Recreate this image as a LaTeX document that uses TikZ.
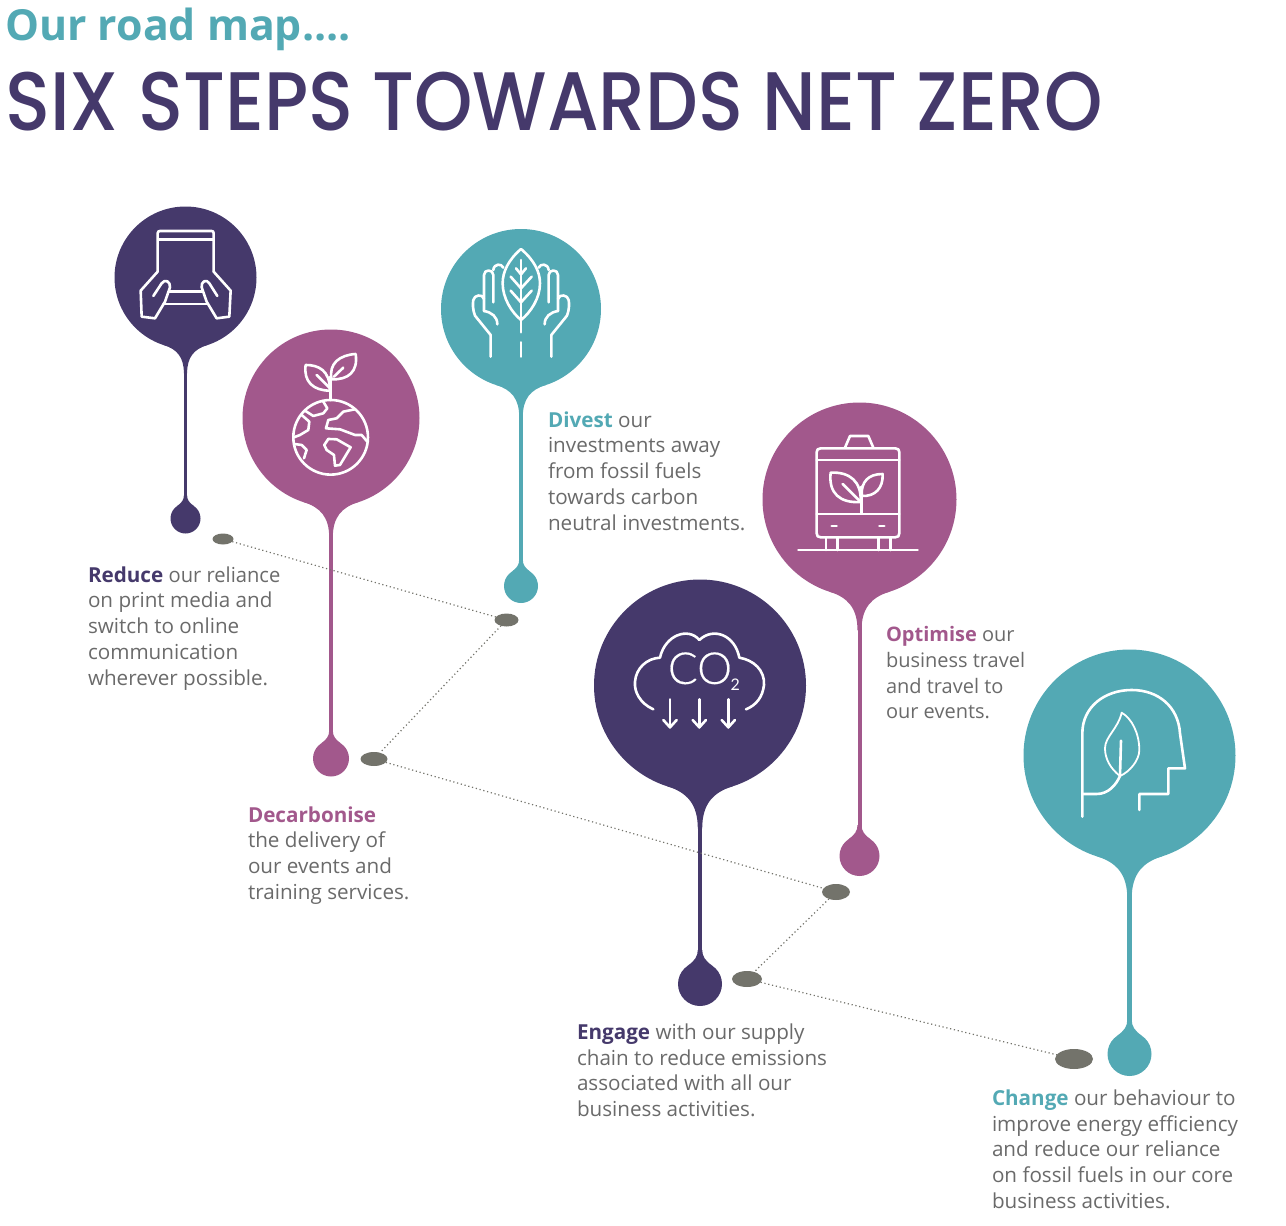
\documentclass[tikz,border=0pt]{standalone}
\usepackage{fontspec}
\setmainfont{Open Sans}
\newfontfamily\titlefont{Poppins Medium}
\newfontfamily\thinfont[FakeBold=0.4]{Lato Light}
\newfontfamily\regfont{Lato}
\usetikzlibrary{shapes.geometric}
\definecolor{cpurple}{HTML}{45396B}
\definecolor{cmag}{HTML}{A2588C}
\definecolor{cteal}{HTML}{53A9B4}
\definecolor{cgray}{HTML}{73736B}
\definecolor{ctext}{HTML}{6A6A6A}
\tikzset{
  pinhead/.style={circle,inner sep=0pt,outer sep=0pt,draw=none},
  shadowdot/.style={ellipse,inner sep=0pt,outer sep=0pt,fill=cgray,draw=none},
  dotlink/.style={cgray,line width=1.2pt,dash pattern=on 1.2pt off 2.7pt},
  iconline/.style={white,line width=2.6pt,line join=round,line cap=round},
  thinline/.style={white,line width=1.8pt,line join=round,line cap=round},
  bodytext/.style={anchor=north west,inner sep=0pt,outer sep=0pt,align=left,text=ctext,font=\fontsize{20.65}{25.8}\selectfont},
  narrowtext/.style={bodytext,font=\fontsize{20}{25.9}\selectfont}
}
\newcommand{\pinmark}[8]{% name colour cx cy r bally R halfstem
  \pgfmathsetmacro{\pcx}{#3}\pgfmathsetmacro{\pcy}{#4}\pgfmathsetmacro{\pr}{#5}
  \pgfmathsetmacro{\pby}{#6}\pgfmathsetmacro{\pR}{#7}\pgfmathsetmacro{\pw}{#8}
  \node[pinhead,fill=#2,minimum size=2*#5 pt] (#1h) at (\pcx,\pcy) {};
  \node[pinhead,fill=#2,minimum size=2*#7 pt] (#1b) at (\pcx,\pby) {};
  \draw[#2,line width=2*#8 pt] (#1h.south) -- (#1b.north);
  \fill[#2] ({\pcx-.31*\pr},{\pcy+.95*\pr}) .. controls ({\pcx-.12*\pr},{\pcy+1.01*\pr}) and ({\pcx-\pw},{\pcy+1.12*\pr}) .. ({\pcx-\pw},{\pcy+1.35*\pr})
    -- ({\pcx+\pw},{\pcy+1.35*\pr}) .. controls ({\pcx+\pw},{\pcy+1.12*\pr}) and ({\pcx+.12*\pr},{\pcy+1.01*\pr}) .. ({\pcx+.31*\pr},{\pcy+.95*\pr}) -- cycle;
  \fill[#2] ({\pcx-\pw},{\pby-1.55*\pR}) .. controls ({\pcx-\pw},{\pby-1.25*\pR}) and ({\pcx-.25*\pR},{\pby-1.05*\pR}) .. ({\pcx-.55*\pR},{\pby-.84*\pR})
    -- ({\pcx+.55*\pR},{\pby-.84*\pR}) .. controls ({\pcx+.25*\pR},{\pby-1.05*\pR}) and ({\pcx+\pw},{\pby-1.25*\pR}) .. ({\pcx+\pw},{\pby-1.55*\pR}) -- cycle;
}
\begin{document}
\begin{tikzpicture}[x=1pt,y=-1pt]
\useasboundingbox (0,0) rectangle (1286,1226);
% titles
\node[anchor=base west,inner sep=0pt,text=cteal,font=\fontsize{42.8}{42.8}\selectfont\bfseries] (sub) at (5,40) {Our road map....};
\node[anchor=base west,inner sep=0pt,text=cpurple,font=\fontsize{83}{83}\selectfont\titlefont] (ttl) at (5,130) {\scalebox{0.896}[1]{SIX STEPS TOWARDS NET ZERO}};
% pins
\pinmark{a}{cpurple}{185.5}{277.5}{71}{518.5}{15}{1.6}
\pinmark{b}{cmag}{331}{418}{88.5}{758.5}{18}{1.8}
\pinmark{c}{cteal}{521}{309}{80}{586}{17}{1.8}
\pinmark{d}{cmag}{859.5}{499.5}{97}{856}{20}{2}
\pinmark{e}{cpurple}{700}{685.5}{106}{984}{22}{2.2}
\pinmark{f}{cteal}{1129.5}{755.5}{106}{1054}{22}{2.2}
% shadows
\node[shadowdot,minimum width=21pt,minimum height=11pt] (s1) at (223,539) {};
\node[shadowdot,minimum width=24pt,minimum height=13pt] (s2) at (506.5,620) {};
\node[shadowdot,minimum width=27pt,minimum height=14pt] (s3) at (374,759) {};
\node[shadowdot,minimum width=28pt,minimum height=16pt] (s4) at (836,892) {};
\node[shadowdot,minimum width=30pt,minimum height=16pt] (s5) at (747,979) {};
\node[shadowdot,minimum width=38pt,minimum height=20pt] (s6) at (1074,1059) {};
\draw[dotlink] (s1) -- (s2);
\draw[dotlink] (s2) -- (s3);
\draw[dotlink] (s3) -- (s4);
\draw[dotlink] (s4) -- (s5);
\draw[dotlink] (s5) -- (s6);
% texts
\node[bodytext] (t1) at (88,566.5) {\textcolor{cpurple}{\bfseries Reduce} \scalebox{0.975}[1]{our reliance}\\on print media and\\switch to online\\communication\\wherever possible.};
\node[bodytext] (t2) at (248,806.5) {\textcolor{cmag}{\bfseries Decarbonise}\\the delivery of\\our events and\\training services.};
\node[bodytext] (t3) at (548,411.5) {\textcolor{cteal}{\bfseries Divest} our\\investments away\\from fossil fuels\\towards carbon\\neutral investments.};
\node[narrowtext] (t4) at (886,626) {\textcolor{cmag}{\bfseries Optimise} our\\business travel\\and travel to\\our events.};
\node[bodytext] (t5) at (577,1023.5) {\textcolor{cpurple}{\bfseries Engage} with our supply\\chain to reduce emissions\\associated with all our\\business activities.};
\node[bodytext] (t6) at (992,1089.5) {\textcolor{cteal}{\bfseries Change} our behaviour to\\improve energy efficiency\\and reduce our reliance\\on fossil fuels in our core\\business activities.};
% icon: tablet
\begin{scope}[shift={(110,200)},scale=0.3333]
\draw[iconline] (143,215) -- (143,100) .. controls (143,95) and (146,93) .. (150,93) -- (305,93) .. controls (309,93) and (311,95) .. (311,100) -- (311,215);
\draw[iconline] (145,118) -- (310,118);
\draw[iconline] (178,275) -- (278,275);
\draw[iconline] (160,312) -- (290,312);
\draw[iconline] (143,215) -- (92,272) -- (95,350) -- (135,355) -- (165,305) -- (180,262) .. controls (182,245) and (165,235) .. (155,250) -- (130,288);
\draw[iconline] (311,215) -- (362,272) -- (358,350) -- (320,355) -- (290,305) -- (275,262) .. controls (272,245) and (290,235) .. (298,250) -- (322,288);
% icon: globe
\draw[iconline] (662,712) circle[radius=112];
\draw[iconline] (662,600) -- (662,530);
\draw[iconline] (587,495) .. controls (625,495) and (660,510) .. (660,572) .. controls (610,572) and (580,545) .. (587,495) -- cycle;
\draw[iconline] (620,525) -- (660,565);
\draw[iconline] (737,462) .. controls (690,465) and (655,490) .. (665,538) .. controls (715,540) and (745,515) .. (737,462) -- cycle;
\draw[iconline] (672,530) -- (700,503);
\draw[iconline] (640,605) -- (652,625) -- (640,640) -- (610,648) -- (585,632);
\draw[iconline] (575,645) -- (598,665) -- (595,690) -- (570,705) -- (552,712);
\draw[iconline] (552,732) -- (575,735) -- (590,750) -- (582,775);
\draw[iconline] (735,628) -- (700,635) -- (680,655) -- (655,660) -- (648,685) -- (690,688) -- (735,705) -- (755,705) -- (772,725);
\draw[iconline] (655,717) -- (680,718) -- (722,742) -- (690,795) -- (675,797) -- (672,765) -- (650,750) -- (643,735) -- cycle;
\end{scope}
% icon: hands and leaf
\begin{scope}[shift={(440,225)},scale=0.3333]
\draw[iconline] (243,72) .. controls (205,105) and (188,140) .. (188,175) .. controls (188,220) and (215,262) .. (243,285) .. controls (272,262) and (300,220) .. (300,175) .. controls (300,140) and (282,105) .. (243,72) -- cycle;
\draw[iconline] (243,105) -- (243,322);
\draw[iconline] (243,352) -- (243,395);
\draw[iconline] (212,155) -- (243,190) -- (275,155);
\draw[iconline] (212,197) -- (243,232) -- (275,197);
\draw[iconline] (228,130) -- (243,148) -- (258,130);
\draw[iconline] (152,395) -- (152,330) -- (105,272) .. controls (98,255) and (98,235) .. (100,225) .. controls (102,210) and (128,205) .. (132,222);
\draw[iconline] (132,258) -- (132,150) .. controls (132,132) and (160,132) .. (160,150) -- (160,232);
\draw[iconline] (160,135) .. controls (162,115) and (185,115) .. (190,128);
\draw[iconline] (132,258) .. controls (155,262) and (172,275) .. (172,298);
\draw[iconline] (334,395) -- (334,330) -- (381,272) .. controls (388,255) and (388,235) .. (386,225) .. controls (384,210) and (358,205) .. (354,222);
\draw[iconline] (354,258) -- (354,150) .. controls (354,132) and (326,132) .. (326,150) -- (326,232);
\draw[iconline] (326,135) .. controls (324,115) and (301,115) .. (296,128);
\draw[iconline] (354,258) .. controls (331,262) and (314,275) .. (314,298);
\end{scope}
% icon: bus
\begin{scope}[shift={(760,400)},scale=0.3333]
\draw[iconline] (182,145) -- (406,145) .. controls (414,145) and (418,149) .. (418,157) -- (418,400) .. controls (418,408) and (414,412) .. (406,412) -- (182,412) .. controls (174,412) and (170,408) .. (170,400) -- (170,157) .. controls (170,149) and (174,145) .. (182,145) -- cycle;
\draw[iconline] (170,180) -- (418,180);
\draw[iconline] (170,342) -- (418,342);
\draw[iconline] (255,143) -- (270,108) -- (325,108) -- (340,143);
\draw[iconline] (215,378) -- (230,378);
\draw[iconline] (358,378) -- (373,378);
\draw[iconline] (198,412) -- (198,450);
\draw[iconline] (232,412) -- (232,450);
\draw[iconline] (355,412) -- (355,450);
\draw[iconline] (392,412) -- (392,450);
\draw[iconline] (115,450) -- (473,450);
\draw[iconline] (212,218) .. controls (270,215) and (305,245) .. (302,306) .. controls (240,310) and (205,280) .. (212,218) -- cycle;
\draw[iconline] (248,252) -- (298,302);
\draw[iconline] (305,340) -- (305,260);
\draw[iconline] (368,222) .. controls (325,222) and (303,245) .. (305,288) .. controls (345,290) and (370,265) .. (368,222) -- cycle;
\end{scope}
% icon: cloud
\begin{scope}[shift={(610,610)},scale=0.3333]
\draw[iconline] (130,298) .. controls (90,280) and (72,245) .. (75,215) .. controls (78,175) and (110,145) .. (150,143) .. controls (165,75) and (235,50) .. (268,90) .. controls (310,50) and (375,75) .. (388,143) .. controls (430,150) and (465,180) .. (462,225) .. controls (458,260) and (440,285) .. (408,298);
\draw[iconline] (180,268) -- (180,352);
\draw[iconline] (160,330) -- (180,352) -- (200,330);
\draw[iconline] (268,268) -- (268,352);
\draw[iconline] (248,330) -- (268,352) -- (288,330);
\draw[iconline] (355,268) -- (355,352);
\draw[iconline] (335,330) -- (355,352) -- (375,330);
\node[text=white,inner sep=0pt,font=\fontsize{44}{44}\selectfont\thinfont] (co) at (270,175) {CO};
\node[text=white,inner sep=0pt,font=\fontsize{16}{16}\selectfont\regfont] (co2) at (376,225) {2};
\end{scope}
% icon: head
\begin{scope}[shift={(1050,670)},scale=0.3333]
\draw[iconline] (97,440) -- (97,190) .. controls (97,110) and (165,60) .. (245,60) .. controls (325,60) and (385,110) .. (390,190) -- (405,295) -- (355,295) -- (355,372) -- (268,372) -- (268,420);
\draw[iconline] (97,372) -- (140,372) .. controls (175,372) and (198,345) .. (210,318);
\draw[thinline] (210,318) .. controls (180,295) and (165,265) .. (165,235) .. controls (165,200) and (205,175) .. (215,128) .. controls (245,145) and (268,190) .. (268,240) .. controls (268,270) and (240,305) .. (210,318) -- cycle;
\draw[iconline] (213,212) -- (210,318);
\end{scope}
\end{tikzpicture}
\end{document}
